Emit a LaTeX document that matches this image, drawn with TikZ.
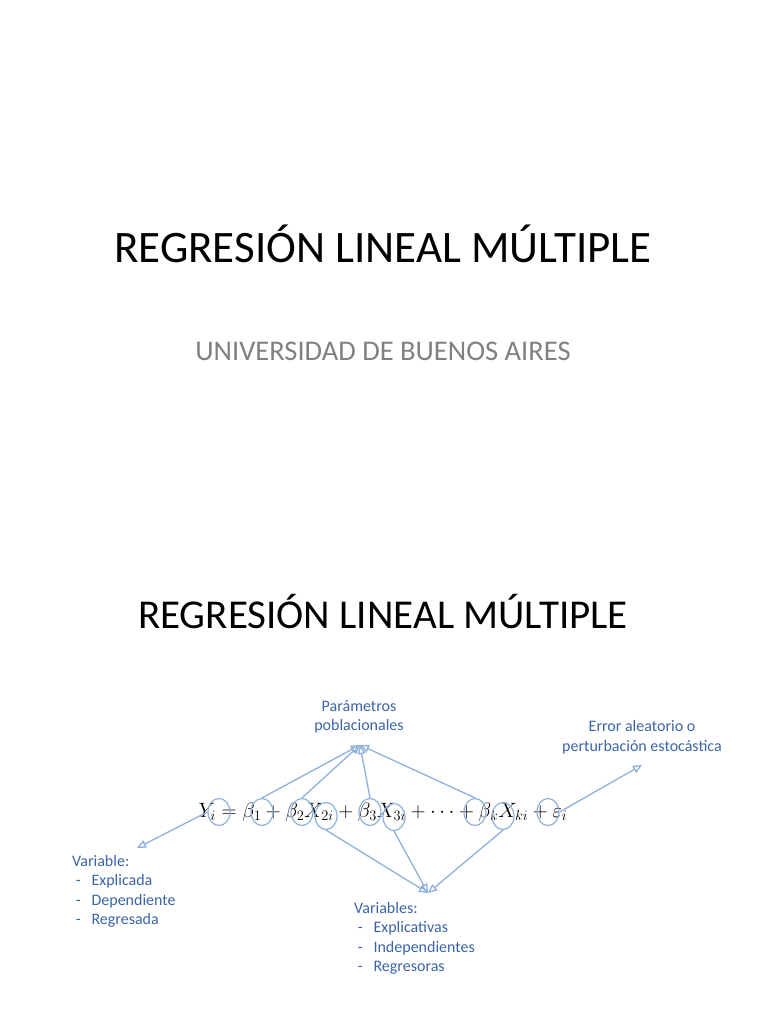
\documentclass[tikz,border=0pt]{standalone}
\usepackage{fontspec}
\setmainfont{Carlito}
\usetikzlibrary{arrows.meta,shapes.geometric}
\definecolor{lbl}{HTML}{3B64A8}
\definecolor{arr}{HTML}{8FB0DC}
\begin{document}
\begin{tikzpicture}[x=1pt,y=-1pt,
  lab/.style={text=lbl,font=\fontsize{16}{19.5}\selectfont,align=left,inner sep=0},
  circ/.style={draw=arr,line width=1.2pt,ellipse,minimum width=22,minimum height=27,inner sep=0},
  ar/.style={draw=arr,line width=1.3pt,-{Triangle[open,length=9pt,width=8pt]}}]
\useasboundingbox (0,0) rectangle (768,1024);
\node[inner sep=0,font=\fontsize{45}{50}\selectfont] (t1) at (383,244) {REGRESIÓN LINEAL MÚLTIPLE};
\node[inner sep=0,font=\fontsize{28.5}{32}\selectfont,text=black!50] (t2) at (383,351) {UNIVERSIDAD DE BUENOS AIRES};
\node[inner sep=0,font=\fontsize{41}{46}\selectfont] (t3) at (383,612) {REGRESIÓN LINEAL MÚLTIPLE};
\node[inner sep=0,font=\fontsize{20}{24}\selectfont] (eq) at (383,812) {$Y_i=\beta_1+\beta_2X_{2i}+\beta_3X_{3i}+\cdots+\beta_kX_{ki}+\varepsilon_i$};
\node[lab,align=center] (par) at (359,717) {Parámetros\\poblacionales};
\node[lab,align=center] (err) at (642,737) {Error aleatorio o\\perturbación estocástica};
\node[lab,anchor=north west] (vd) at (72,855) {Variable:\\\ -\ \ \ Explicada\\\ -\ \ \ Dependiente\\\ -\ \ \ Regresada};
\node[lab,anchor=north west] (vi) at (354,902) {Variables:\\\ -\ \ \ Explicativas\\\ -\ \ \ Independientes\\\ -\ \ \ Regresoras};
\node[circ] (y) at (219,812) {};
\node[circ] (b1) at (262,812) {};
\node[circ] (b2) at (302,812) {};
\node[circ] (x2) at (326,816) {};
\node[circ] (b3) at (370,812) {};
\node[circ] (x3) at (394,817) {};
\node[circ] (bk) at (475,812) {};
\node[circ] (xk) at (503,816) {};
\node[circ] (ep) at (548,812) {};
\coordinate (pt) at (360,745);
\coordinate (vt) at (428,893);
\coordinate (yl) at (137,848);
\coordinate (er) at (642,765);
\draw[ar] (b1.north) -- (pt);
\draw[ar] (b2.north) -- (pt);
\draw[ar] (b3.north) -- (pt);
\draw[ar] (bk.north) -- (pt);
\draw[ar] (x2.south) -- (vt);
\draw[ar] (x3.south) -- (vt);
\draw[ar] (xk.south) -- (vt);
\draw[ar] (y.west) -- (yl);
\draw[ar] (ep.east) -- (er);
\end{tikzpicture}
\end{document}
